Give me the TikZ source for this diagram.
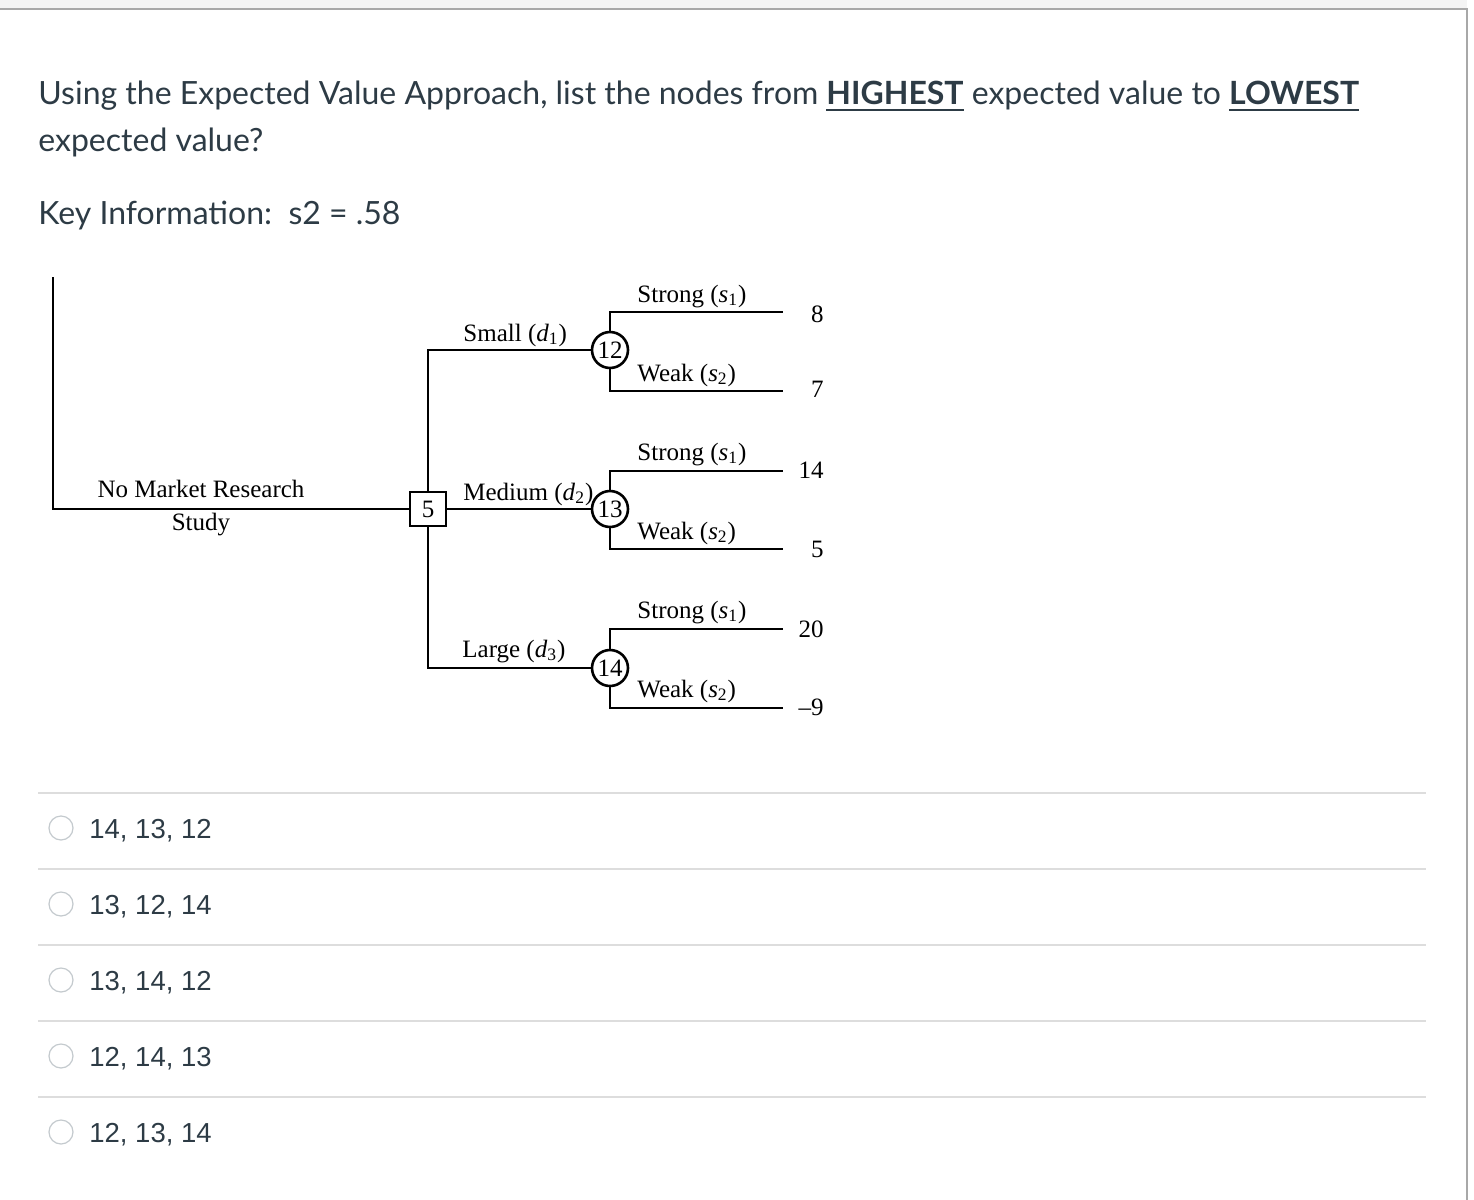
\documentclass[tikz,border=0pt]{standalone}
\usepackage{fontspec}
\setmainfont{Lato}
\newfontfamily\treefont{Liberation Serif}
\newfontfamily\ansfont{Liberation Sans}
\newcommand{\uword}[1]{\sbox0{#1}\rlap{\rule[-3.3pt]{\wd0}{1pt}}\usebox0}
\usetikzlibrary{positioning}
\definecolor{cink}{HTML}{2D3B45}
\definecolor{crule}{HTML}{DDDDDD}
\definecolor{cradio}{HTML}{C4CACE}
\definecolor{cframe}{HTML}{A8A8A8}
\definecolor{cband}{HTML}{F4F4F4}

\begin{document}
\begin{tikzpicture}[
  x=0.5pt, y=-0.5pt,
  qtext/.style={anchor=base west, inner sep=0pt, text=cink, font=\fontsize{16}{19}\selectfont},
  anstext/.style={anchor=base west, inner sep=0pt, text=cink, font=\ansfont\fontsize{13.75}{16}\selectfont},
  radio/.style={circle, draw=cradio, line width=0.6pt, minimum size=12pt, inner sep=0pt},
  sep/.style={crule, line width=1pt},
  branch/.style={line width=1.3pt},
  chance/.style={circle, draw, line width=1.3pt, minimum size=18pt, inner sep=0pt, font=\treefont\fontsize{12.5}{14}\selectfont},
  decision/.style={rectangle, draw, line width=1.3pt, minimum width=18pt, minimum height=17pt, inner sep=0pt, font=\treefont\fontsize{12.5}{14}\selectfont},
  lbl/.style={anchor=base west, inner sep=0pt, font=\treefont\fontsize{12.5}{15}\selectfont},
  pay/.style={anchor=east, inner sep=0pt, font=\treefont\fontsize{12.5}{15}\selectfont},
]
\useasboundingbox (0,0) rectangle (1474,1200);
\fill[white] (0,0) rectangle (1474,1200);
% page frame
\fill[cband] (0,0) rectangle (1467,8);
\draw[cframe, line width=1pt] (0,9) -- (1467,9) -- (1467,1200);

% question
\node[qtext] (q1) at (38,104) {Using the Expected Value Approach, list the nodes from \uword{\textbf{HIGHEST}} expected value to \uword{\textbf{LOWEST}}};
\node[qtext] (q2) at (38,151) {expected value?};
\node[qtext] (key) at (38,224) {Key Information:\ \ s2 = .58};

% decision tree
\node[decision] (dec) at (428,509) {5};
\node[chance] (c12) at (610,350) {12};
\node[chance] (c13) at (610,509) {13};
\node[chance] (c14) at (610,668) {14};
\coordinate (top) at (53,277);
\coordinate (e12a) at (783,312);
\coordinate (e12b) at (783,391);
\coordinate (e13a) at (783,471);
\coordinate (e13b) at (783,549);
\coordinate (e14a) at (783,629);
\coordinate (e14b) at (783,708);

\draw[branch] (top) |- (dec.west);
\draw[branch] (dec.north) |- (c12.west);
\draw[branch] (dec.east) -- (c13.west);
\draw[branch] (dec.south) |- (c14.west);
\draw[branch] (c12.north) |- (e12a);
\draw[branch] (c12.south) |- (e12b);
\draw[branch] (c13.north) |- (e13a);
\draw[branch] (c13.south) |- (e13b);
\draw[branch] (c14.north) |- (e14a);
\draw[branch] (c14.south) |- (e14b);

\node[align=center, inner sep=0pt, font=\treefont\fontsize{12.5}{16.5}\selectfont] (nmr) at (201,508) {No Market Research\\Study};
\node[lbl] (d1) at (463,341) {Small (\textit{d}\textsubscript{1})};
\node[lbl] (d2) at (463,500) {Medium (\textit{d}\textsubscript{2})};
\node[lbl] (d3) at (462,657) {Large (\textit{d}\textsubscript{3})};
\node[lbl] (s1a) at (637,302) {Strong (\textit{s}\textsubscript{1})};
\node[lbl] (s2a) at (637,381) {Weak (\textit{s}\textsubscript{2})};
\node[lbl] (s1b) at (637,460) {Strong (\textit{s}\textsubscript{1})};
\node[lbl] (s2b) at (637,539) {Weak (\textit{s}\textsubscript{2})};
\node[lbl] (s1c) at (637,618) {Strong (\textit{s}\textsubscript{1})};
\node[lbl] (s2c) at (637,697) {Weak (\textit{s}\textsubscript{2})};

\node[pay] (p1) at (824,314) {8};
\node[pay] (p2) at (824,389) {7};
\node[pay] (p3) at (824,470) {14};
\node[pay] (p4) at (824,549) {5};
\node[pay] (p5) at (824,629) {20};
\node[pay] (p6) at (824,707) {–9};

% answers
\draw[sep] (38,793) -- (1426,793);
\node[radio] (r1) at (61,828) {};
\node[anstext] (a1) at (89,838) {14, 13, 12};
\draw[sep] (38,869) -- (1426,869);
\node[radio] (r2) at (61,904) {};
\node[anstext] (a2) at (89,914) {13, 12, 14};
\draw[sep] (38,945) -- (1426,945);
\node[radio] (r3) at (61,980) {};
\node[anstext] (a3) at (89,990) {13, 14, 12};
\draw[sep] (38,1021) -- (1426,1021);
\node[radio] (r4) at (61,1056) {};
\node[anstext] (a4) at (89,1066) {12, 14, 13};
\draw[sep] (38,1097) -- (1426,1097);
\node[radio] (r5) at (61,1132) {};
\node[anstext] (a5) at (89,1142) {12, 13, 14};
\end{tikzpicture}
\end{document}
